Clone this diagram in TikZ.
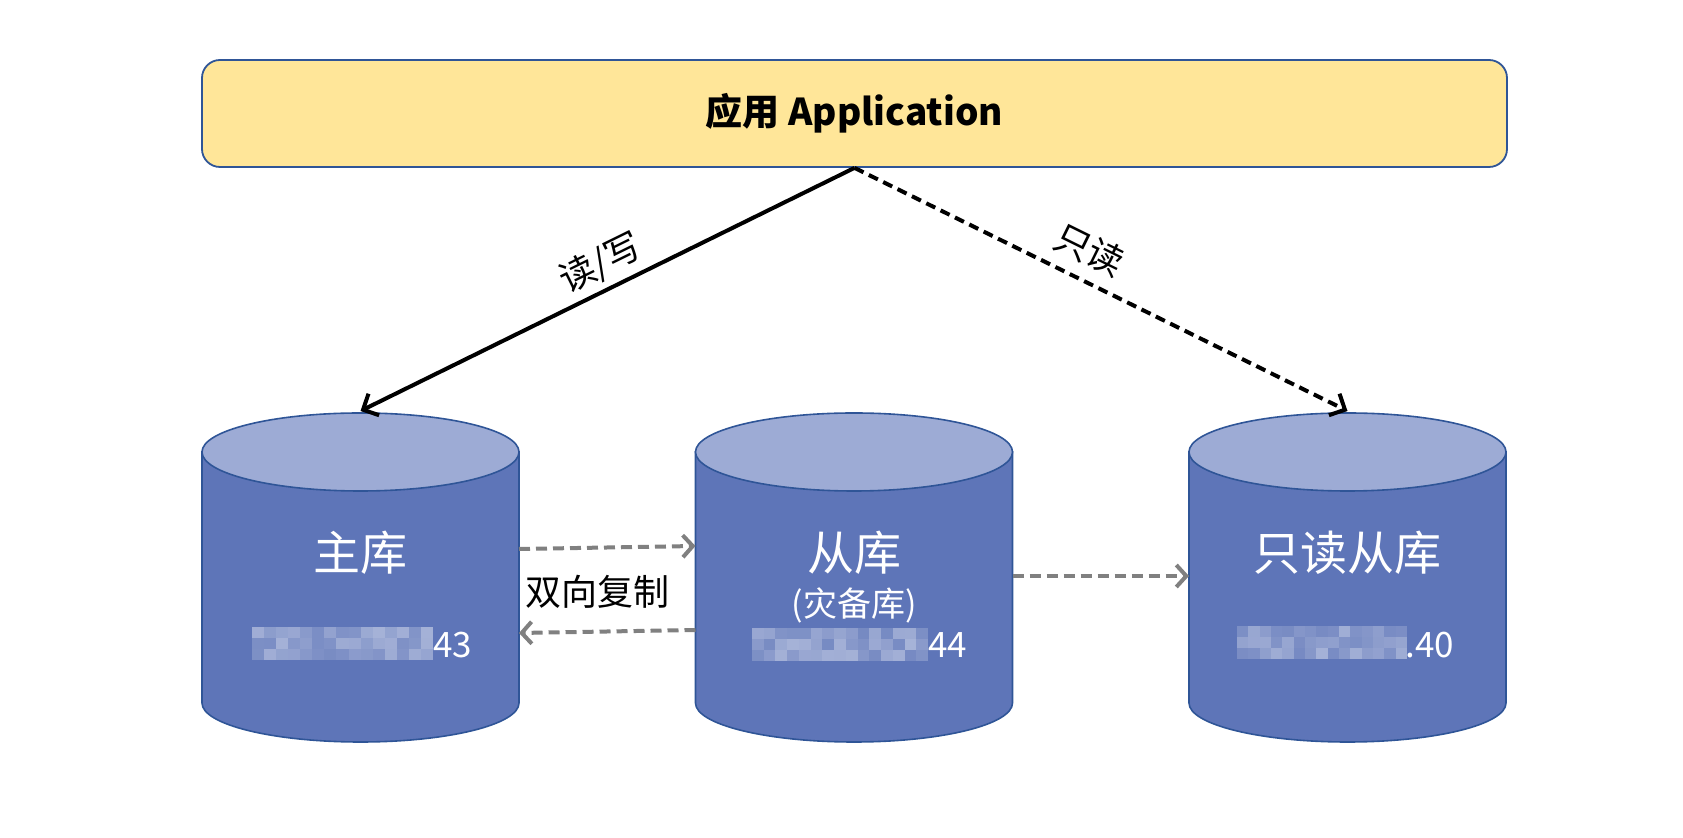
\documentclass[tikz,border=0pt]{standalone}
\usepackage{fontspec}
\setmainfont{Noto Sans CJK SC}
\usetikzlibrary{arrows.meta}
\definecolor{appYellow}{RGB}{255,230,153}
\definecolor{edgeBlue}{RGB}{47,85,151}
\definecolor{dbBody}{RGB}{94,117,184}
\definecolor{dbTop}{RGB}{157,171,213}
\definecolor{replGray}{RGB}{128,128,128}

\tikzset{
  appbox/.style={draw=edgeBlue, line width=0.9pt, fill=appYellow, rounded corners=9pt,
    minimum width=652.5pt, minimum height=53.5pt, font=\fontsize{18.5}{22}\selectfont},
  dbframe/.style={inner sep=0pt, outer sep=0pt, minimum width=158.5pt, minimum height=165pt},
  dbside/.style={draw=edgeBlue, line width=0.8pt, fill=dbBody},
  dbend/.style={draw=edgeBlue, line width=0.8pt, fill=dbTop},
  dbname/.style={text=white, inner sep=0pt, font=\fontsize{23.5}{26}\selectfont},
  dbnote/.style={text=white, inner sep=0pt, font=\fontsize{17}{19}\selectfont},
  dbip/.style={text=white, inner sep=0pt, anchor=west, font=\fontsize{17.5}{19}\selectfont},
  lbl/.style={inner sep=1pt, font=\fontsize{18}{20}\selectfont},
  rwline/.style={line width=2pt, -{Straight Barb[length=6pt,width=12pt]}},
  roline/.style={rwline, dash pattern=on 5pt off 3pt},
  repline/.style={replGray, line width=2pt, dash pattern=on 5.5pt off 3pt,
    -{Straight Barb[length=5pt,width=11pt]}}
}

% database drum: name, centre x
\newcommand{\dbcyl}[2]{%
  \node[dbframe] (#1) at (#2,576) {};
  \filldraw[dbside] ({#2-158.5},452) -- ({#2-158.5},703)
    arc[start angle=180, end angle=360, x radius=79.25pt, y radius=19.5pt]
    -- ({#2+158.5},452) -- cycle;
  \filldraw[dbend] (#2,452) ellipse [x radius=79.25pt, y radius=19.5pt];
}

% pixel mask over the hidden part of an address
\newcommand{\ipmask}[3]{%
  \foreach \i in {0,...,14}{
    \foreach \j in {0,1,2}{
      \pgfmathsetmacro{\op}{0.15+0.3*rnd}
      \fill[white, fill opacity=\op] ({#1+(#2-#1)*\i/15},{#3+11*\j}) rectangle ++({(#2-#1)/15},11);
    }
  }
}

\begin{document}
\begin{tikzpicture}[x=0.5pt, y=-0.5pt]
  \pgfmathsetseed{7}
  \useasboundingbox (0,0) rectangle (1683,838);

  % application
  \node[appbox] (app) at (854.5,113.5) {\textbf{应用 Application}};

  % databases
  \dbcyl{master}{360.5}
  \dbcyl{slave}{854}
  \dbcyl{readonly}{1347.5}

  \node[dbname] (masterName) at (360.5,553) {主库};
  \node[dbname] (slaveName) at (854,553) {从库};
  \node[dbnote] (slaveNote) at (854,605) {(灾备库)};
  \node[dbname] (readonlyName) at (1347.5,553) {只读从库};

  % addresses
  \ipmask{252}{433}{627}
  \node[dbip] (masterIp) at (433,645) {43};
  \ipmask{752}{928}{628}
  \node[dbip] (slaveIp) at (928,645) {44};
  \ipmask{1237}{1407}{626}
  \node[dbip] (readonlyIp) at (1405,645) {.40};

  % access paths
  \draw[rwline] (app.south) -- node[pos=0.49, sloped, above=2pt, lbl] (rwLabel) {读/写} (master.north);
  \draw[roline] (app.south) -- node[pos=0.45, sloped, above=5pt, lbl] (roLabel) {只读} (readonly.north);

  % replication
  \draw[repline] ([yshift=13.5pt]master.east) -- ([yshift=15pt]slave.west);
  \draw[repline] ([yshift=-27pt]slave.west) -- ([yshift=-28.5pt]master.east);
  \node[lbl] (replLabel) at (597,592) {双向复制};
  \draw[repline] (slave.east) -- (readonly.west);
\end{tikzpicture}
\end{document}
